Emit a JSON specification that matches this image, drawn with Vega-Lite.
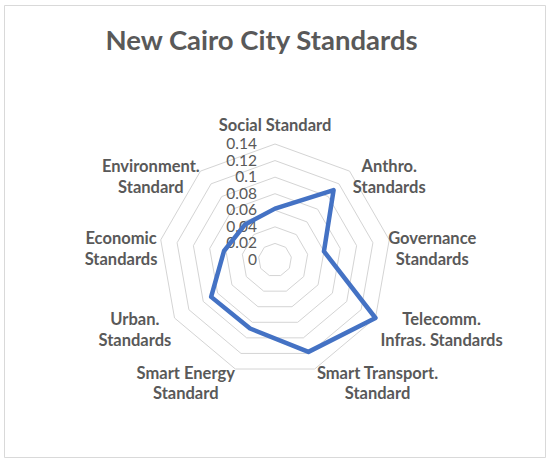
{
  "$schema": "https://vega.github.io/schema/vega-lite/v6.json",
  "width": 541,
  "height": 452,
  "padding": {"left": 4, "top": 5, "right": 5, "bottom": 4},
  "autosize": {"type": "none"},
  "background": "white",
  "title": {
    "text": "New Cairo City Standards",
    "font": "Lato",
    "fontSize": 27.5,
    "fontWeight": "bold",
    "color": "#595959",
    "anchor": "middle",
    "offset": -50,
    "dx": -13
  },
  "config": {"view": {"stroke": "#d9d9d9", "strokeWidth": 1}},
  "datasets": {
    "standards": [
      {"standard": "Social Standard", "idx": 0, "value": 0.062},
      {"standard": "Anthro.\nStandards", "idx": 1, "value": 0.11},
      {"standard": "Governance\nStandards", "idx": 2, "value": 0.06},
      {"standard": "Telecomm.\nInfras. Standards", "idx": 3, "value": 0.14},
      {"standard": "Smart Transport.\nStandard", "idx": 4, "value": 0.118},
      {"standard": "Smart Energy\nStandard", "idx": 5, "value": 0.088},
      {"standard": "Urban.\nStandards", "idx": 6, "value": 0.089},
      {"standard": "Economic\nStandards", "idx": 7, "value": 0.0625},
      {"standard": "Environment.\nStandard", "idx": 8, "value": 0.056}
    ],
    "rings": [
      {"level": 0.02, "idx": 0}, {"level": 0.02, "idx": 1}, {"level": 0.02, "idx": 2}, {"level": 0.02, "idx": 3}, {"level": 0.02, "idx": 4}, {"level": 0.02, "idx": 5}, {"level": 0.02, "idx": 6}, {"level": 0.02, "idx": 7}, {"level": 0.02, "idx": 8},
      {"level": 0.04, "idx": 0}, {"level": 0.04, "idx": 1}, {"level": 0.04, "idx": 2}, {"level": 0.04, "idx": 3}, {"level": 0.04, "idx": 4}, {"level": 0.04, "idx": 5}, {"level": 0.04, "idx": 6}, {"level": 0.04, "idx": 7}, {"level": 0.04, "idx": 8},
      {"level": 0.06, "idx": 0}, {"level": 0.06, "idx": 1}, {"level": 0.06, "idx": 2}, {"level": 0.06, "idx": 3}, {"level": 0.06, "idx": 4}, {"level": 0.06, "idx": 5}, {"level": 0.06, "idx": 6}, {"level": 0.06, "idx": 7}, {"level": 0.06, "idx": 8},
      {"level": 0.08, "idx": 0}, {"level": 0.08, "idx": 1}, {"level": 0.08, "idx": 2}, {"level": 0.08, "idx": 3}, {"level": 0.08, "idx": 4}, {"level": 0.08, "idx": 5}, {"level": 0.08, "idx": 6}, {"level": 0.08, "idx": 7}, {"level": 0.08, "idx": 8},
      {"level": 0.1, "idx": 0}, {"level": 0.1, "idx": 1}, {"level": 0.1, "idx": 2}, {"level": 0.1, "idx": 3}, {"level": 0.1, "idx": 4}, {"level": 0.1, "idx": 5}, {"level": 0.1, "idx": 6}, {"level": 0.1, "idx": 7}, {"level": 0.1, "idx": 8},
      {"level": 0.12, "idx": 0}, {"level": 0.12, "idx": 1}, {"level": 0.12, "idx": 2}, {"level": 0.12, "idx": 3}, {"level": 0.12, "idx": 4}, {"level": 0.12, "idx": 5}, {"level": 0.12, "idx": 6}, {"level": 0.12, "idx": 7}, {"level": 0.12, "idx": 8},
      {"level": 0.14, "idx": 0}, {"level": 0.14, "idx": 1}, {"level": 0.14, "idx": 2}, {"level": 0.14, "idx": 3}, {"level": 0.14, "idx": 4}, {"level": 0.14, "idx": 5}, {"level": 0.14, "idx": 6}, {"level": 0.14, "idx": 7}, {"level": 0.14, "idx": 8}
    ],
    "ticks": [
      {"tick": 0}, {"tick": 0.02}, {"tick": 0.04}, {"tick": 0.06},
      {"tick": 0.08}, {"tick": 0.1}, {"tick": 0.12}, {"tick": 0.14}
    ]
  },
  "encoding": {
    "x": {
      "field": "px",
      "type": "quantitative",
      "scale": {"domain": [-0.32707, 0.32586], "nice": false, "zero": false},
      "axis": null
    },
    "y": {
      "field": "py",
      "type": "quantitative",
      "scale": {"domain": [-0.23776, 0.30776], "nice": false, "zero": false},
      "axis": null
    }
  },
  "layer": [
    {
      "data": {"name": "rings"},
      "transform": [
        {"calculate": "datum.idx * 2 * PI / 9", "as": "a"},
        {"calculate": "datum.level * sin(datum.a)", "as": "px"},
        {"calculate": "datum.level * cos(datum.a)", "as": "py"}
      ],
      "mark": {"type": "line", "interpolate": "linear-closed", "stroke": "#d4d4d4", "strokeWidth": 1},
      "encoding": {
        "detail": {"field": "level"},
        "order": {"field": "idx"}
      }
    },
    {
      "data": {"name": "ticks"},
      "transform": [
        {"calculate": "0", "as": "px"},
        {"calculate": "datum.tick", "as": "py"}
      ],
      "mark": {"type": "text", "align": "right", "baseline": "middle", "dx": -18, "font": "Lato", "fontSize": 15.5, "color": "#595959"},
      "encoding": {
        "text": {"field": "tick", "type": "quantitative", "format": "~g"}
      }
    },
    {
      "data": {"name": "standards"},
      "transform": [
        {"calculate": "datum.idx * 2 * PI / 9", "as": "a"},
        {"calculate": "datum.value * sin(datum.a)", "as": "px"},
        {"calculate": "datum.value * cos(datum.a)", "as": "py"}
      ],
      "mark": {"type": "line", "interpolate": "linear-closed", "stroke": "#4472c4", "strokeWidth": 4.5, "strokeJoin": "round"},
      "encoding": {
        "order": {"field": "idx"}
      }
    },
    {
      "data": {"name": "standards"},
      "transform": [
        {"calculate": "datum.idx * 2 * PI / 9", "as": "a"},
        {"calculate": "max(length(split(datum.standard, '\\n')[0]), length(peek(split(datum.standard, '\\n'))))", "as": "n"},
        {"calculate": "datum.idx == 0 ? 0 : (datum.idx < 5 ? 1 : -1)", "as": "side"},
        {"calculate": "0.14 * sin(datum.a) + datum.side * (10 + 3.3 * datum.n) * 0.0012069", "as": "px"},
        {"calculate": "0.14 * cos(datum.a) + (datum.idx == 0 ? 18 : 5 * cos(datum.a)) * 0.0012069", "as": "py"}
      ],
      "mark": {"type": "text", "align": "center", "baseline": "middle", "lineBreak": "\n", "lineHeight": 20.7, "font": "Lato", "fontSize": 16.5, "fontWeight": "bold", "color": "#595959"},
      "encoding": {
        "text": {"field": "standard"}
      }
    }
  ]
}
